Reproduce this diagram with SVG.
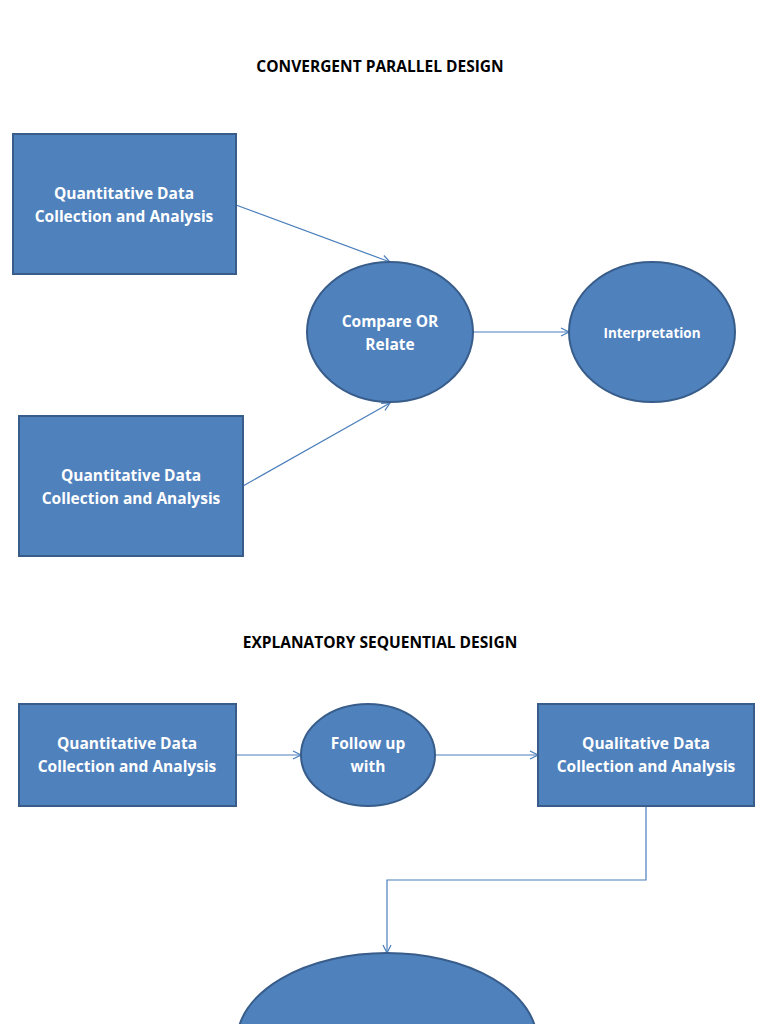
<svg xmlns="http://www.w3.org/2000/svg" width="768" height="1024" viewBox="0 0 768 1024">
<style>
.n{fill:#4f81bd;stroke:#385d8a;stroke-width:2}
.t{font-family:"Open Sans","Liberation Sans",sans-serif;font-weight:bold;font-size:15.5px;fill:#fff;text-anchor:middle}
.h{font-family:"Open Sans","Liberation Sans",sans-serif;font-weight:bold;font-size:15.5px;fill:#000;text-anchor:middle}
.c{fill:none;stroke:#4a7ebb;stroke-width:1.2;marker-end:url(#a)}
</style>
<defs><marker id="a" markerWidth="10" markerHeight="10" refX="9" refY="5" orient="auto" markerUnits="userSpaceOnUse"><path d="M1,1 L9,5 L1,9" fill="none" stroke="#4a7ebb" stroke-width="1.2"/></marker></defs>
<rect width="768" height="1024" fill="#fff"/>
<text class="h" x="380" y="72">CONVERGENT PARALLEL DESIGN</text>
<text class="h" x="380" y="648">EXPLANATORY SEQUENTIAL DESIGN</text>
<g id="connectors">
<path class="c" d="M236,205 L390,262"/>
<path class="c" d="M243,486 L390,403"/>
<path class="c" d="M473,332 L569,332"/>
<path class="c" d="M236,755 L301,755"/>
<path class="c" d="M435,755 L538,755"/>
<path class="c" d="M646,806 L646,880 L387,880 L387,953"/>
</g>
<g id="quant1"><rect class="n" x="13" y="134" width="223" height="140"/><text class="t" x="124" y="199">Quantitative Data</text><text class="t" x="124" y="222">Collection and Analysis</text></g>
<g id="quant2"><rect class="n" x="19" y="416" width="224" height="140"/><text class="t" x="131" y="481">Quantitative Data</text><text class="t" x="131" y="504">Collection and Analysis</text></g>
<g id="compare"><ellipse class="n" cx="390" cy="332" rx="83" ry="70"/><text class="t" x="390" y="327">Compare OR</text><text class="t" x="390" y="350">Relate</text></g>
<g id="interp"><ellipse class="n" cx="652" cy="332" rx="83" ry="70"/><text class="t" x="652" y="338" style="font-size:13.5px">Interpretation</text></g>
<g id="quant3"><rect class="n" x="19" y="704" width="217" height="102"/><text class="t" x="127" y="749">Quantitative Data</text><text class="t" x="127" y="772">Collection and Analysis</text></g>
<g id="follow"><ellipse class="n" cx="368" cy="755" rx="67" ry="51"/><text class="t" x="368" y="749">Follow up</text><text class="t" x="368" y="772">with</text></g>
<g id="qual"><rect class="n" x="538" y="704" width="216" height="102"/><text class="t" x="646" y="749">Qualitative Data</text><text class="t" x="646" y="772">Collection and Analysis</text></g>
<g id="final"><ellipse class="n" cx="387" cy="1041" rx="150" ry="88"/></g>
</svg>
